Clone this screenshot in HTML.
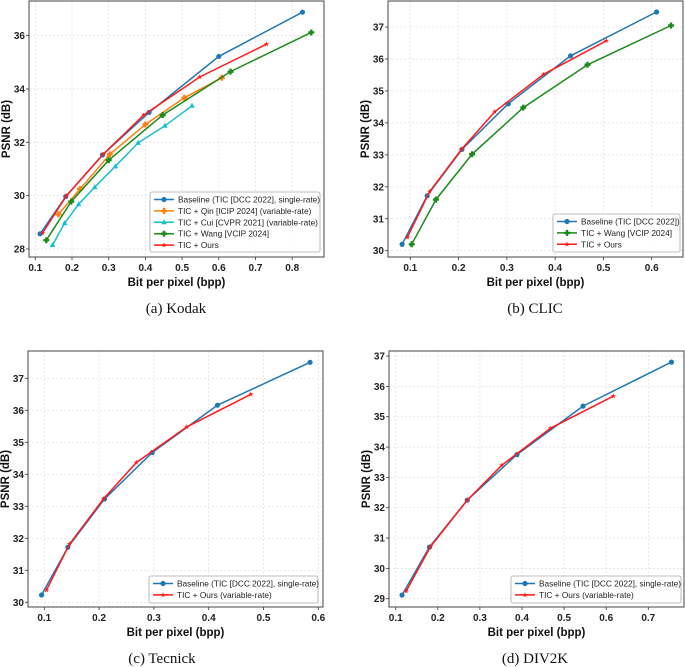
<!DOCTYPE html>
<html><head><meta charset="utf-8"><style>
html,body{margin:0;padding:0;background:#fff;}
svg{display:block;font-family:"Liberation Sans",sans-serif;}
.tick{font-size:10px;font-weight:bold;fill:#222;}
.axl{font-size:11.5px;font-weight:bold;fill:#111;}
.leg{font-size:8.3px;fill:#222;}
.cap{font-family:"Liberation Serif",serif;font-size:15px;fill:#111;}
</style></head><body>
<svg id="fig" width="685" height="667" viewBox="0 0 685 667"></svg>
<script>
// ---- Kodak ----
const kodakBaseX=[0.113,0.183,0.283,0.41,0.60,0.828];
const kodakBaseY=[28.57,29.97,31.53,33.12,35.22,36.88];
const kodakQinX=[0.163,0.222,0.303,0.40,0.506,0.608];
const kodakQinY=[29.3,30.25,31.55,32.67,33.67,34.42];
const kodakCuiX=[0.147,0.18,0.218,0.262,0.318,0.38,0.453,0.527];
const kodakCuiY=[28.15,28.97,29.68,30.32,31.1,31.98,32.62,33.37];
const kodakWangX=[0.13,0.198,0.30,0.447,0.632,0.852];
const kodakWangY=[28.33,29.78,31.33,33.02,34.65,36.12];
const kodakOursX=[0.12,0.185,0.285,0.395,0.548,0.73];
const kodakOursY=[28.6,30.0,31.55,33.02,34.45,35.68];
const kodakXTicks=[0.1,0.2,0.3,0.4,0.5,0.6,0.7,0.8];
const kodakYTicks=[28,30,32,34,36];
// ---- CLIC ----
const clicBaseX=[0.083,0.135,0.207,0.303,0.432,0.61];
const clicBaseY=[30.2,31.72,33.17,34.6,36.1,37.47];
const clicWangX=[0.103,0.153,0.228,0.334,0.467,0.64];
const clicWangY=[30.2,31.6,33.02,34.48,35.82,37.05];
const clicOursX=[0.094,0.14,0.206,0.275,0.376,0.506];
const clicOursY=[30.42,31.85,33.17,34.35,35.52,36.57];
const clicXTicks=[0.1,0.2,0.3,0.4,0.5,0.6];
const clicYTicks=[30,31,32,33,34,35,36,37];
// ---- Tecnick ----
const tecBaseX=[0.095,0.143,0.21,0.297,0.416,0.585];
const tecBaseY=[30.23,31.72,33.23,34.68,36.16,37.5];
const tecOursX=[0.104,0.146,0.208,0.268,0.36,0.477];
const tecOursY=[30.38,31.82,33.23,34.37,35.48,36.5];
const tecXTicks=[0.1,0.2,0.3,0.4,0.5,0.6];
const tecYTicks=[30,31,32,33,34,35,36,37];
// ---- DIV2K ----
const divBaseX=[0.115,0.18,0.27,0.388,0.545,0.755];
const divBaseY=[29.12,30.7,32.25,33.75,35.35,36.8];
const divOursX=[0.125,0.183,0.27,0.352,0.468,0.617];
const divOursY=[29.25,30.72,32.25,33.4,34.62,35.68];
const divXTicks=[0.1,0.2,0.3,0.4,0.5,0.6,0.7];
const divYTicks=[29,30,31,32,33,34,35,36,37];

const NS="http://www.w3.org/2000/svg";
const svg=document.getElementById('fig');
function mk(tag,attrs,parent){const e=document.createElementNS(NS,tag);for(const k in attrs)e.setAttribute(k,attrs[k]);(parent||svg).appendChild(e);return e;}

function marker(g,type,x,y,c){
  let e;
  if(type==='o'){e=mk('circle',{cx:x,cy:y,r:2.6,fill:c},g);}
  else if(type==='P'){e=mk('path',{d:`M${x-1.2},${y-3}h2.4v1.8h1.8v2.4h-1.8v1.8h-2.4v-1.8h-1.8v-2.4h1.8z`,fill:c},g);}
  else if(type==='^'){e=mk('path',{d:`M${x},${y-3}L${x+2.8},${y+2}L${x-2.8},${y+2}z`,fill:c},g);}
  else {let p='';for(let i=0;i<10;i++){const r=i%2?1.1:2.8;const a=-Math.PI/2+i*Math.PI/5;p+=(i?'L':'M')+(x+r*Math.cos(a)).toFixed(2)+','+(y+r*Math.sin(a)).toFixed(2);}e=mk('path',{d:p+'z',fill:c},g);}
  
  
}

function chart(o){
  const g=mk('g',{});
  
  
  const sx=v=>o.x0px+(v-o.x0)*o.xs, sy=v=>o.y0px-(v-o.y0)*o.ys;
  mk('rect',{x:o.L,y:o.T,width:o.R-o.L,height:o.B-o.T,fill:'#fff',stroke:'none'},g);
  o.xt.forEach(t=>{const x=sx(t);
    mk('line',{x1:x,x2:x,y1:o.T,y2:o.B,stroke:'#ddd','stroke-width':0.7,'stroke-dasharray':'2,2'},g);
    mk('line',{x1:x,x2:x,y1:o.B,y2:o.B+3,stroke:'#333','stroke-width':0.8},g);
    const tx=mk('text',{x:x,y:o.B+14,'text-anchor':'middle',class:'tick'},g);tx.textContent=String(t);
    
    });
  o.yt.forEach(t=>{const y=sy(t);
    mk('line',{x1:o.L,x2:o.R,y1:y,y2:y,stroke:'#ddd','stroke-width':0.7,'stroke-dasharray':'2,2'},g);
    mk('line',{x1:o.L-3,x2:o.L,y1:y,y2:y,stroke:'#333','stroke-width':0.8},g);
    const tx=mk('text',{x:o.L-4,y:y+3.5,'text-anchor':'end',class:'tick'},g);tx.textContent=String(t);
    
    });
  mk('rect',{x:o.L,y:o.T,width:o.R-o.L,height:o.B-o.T,fill:'none',stroke:'#444','stroke-width':1},g);
  o.series.forEach(s=>{
    const pts=s.x.map((v,i)=>sx(v).toFixed(1)+','+sy(s.y[i]).toFixed(1)).join(' ');
    const pl=mk('polyline',{points:pts,fill:'none',stroke:s.c,'stroke-width':1.5},g);
    
    
    s.x.forEach((v,i)=>marker(g,s.m,sx(v),sy(s.y[i]),s.c));
  });
  const xl=mk('text',{x:(o.L+o.R)/2,y:o.B+29,'text-anchor':'middle',class:'axl'},g);xl.textContent='Bit per pixel (bpp)';
  
  
  const yx=o.L-19, yy=(o.T+o.B)/2;
  const yl=mk('text',{x:yx,y:yy,'text-anchor':'middle',class:'axl',transform:`rotate(-90 ${yx} ${yy})`},g);yl.textContent='PSNR (dB)';
  
  
  const lg=o.leg;
  const lr=mk('rect',{x:lg.x,y:lg.y,width:lg.w,height:lg.h,fill:'#fff','fill-opacity':0.85,stroke:'#aaa','stroke-width':0.8,rx:2},g);
  
  
  o.series.forEach((s,i)=>{const y=lg.y+7.5+i*lg.dy;
    mk('line',{x1:lg.x+4,x2:lg.x+24,y1:y,y2:y,stroke:s.c,'stroke-width':1.5},g);
    marker(g,s.m,lg.x+14,y,s.c);
    const t=mk('text',{x:lg.x+28,y:y+3,class:'leg'},g);t.textContent=s.label;
    
    });
  const c=mk('text',{x:o.capX,y:o.capY,'text-anchor':'middle',class:'cap'},g);c.textContent=o.cap;
  
  
}
const BL='#1f77b4',OR='#ff7f0e',CY='#17becf',GR='#1a8a1a',RD='#ff1a1a';
chart({name:'kodak-chart',L:29,R:324,T:1,B:257,x0:0.1,x0px:35.3,xs:367,y0:28,y0px:249,ys:26.67,
 xt:kodakXTicks,yt:kodakYTicks,cap:'(a) Kodak',capX:176,capY:313,
 leg:{x:150,y:192,w:170,h:60,dy:11.4},
 series:[{x:kodakBaseX,y:kodakBaseY,c:BL,m:'o',label:'Baseline (TIC [DCC 2022], single-rate)'},
 {x:kodakQinX,y:kodakQinY,c:OR,m:'P',label:'TIC + Qin [ICIP 2024] (variable-rate)'},
 {x:kodakCuiX,y:kodakCuiY,c:CY,m:'^',label:'TIC + Cui [CVPR 2021] (variable-rate)'},
 {x:kodakWangX,y:kodakWangY,c:GR,m:'P',label:'TIC + Wang [VCIP 2024]'},
 {x:kodakOursX,y:kodakOursY,c:RD,m:'*',label:'TIC + Ours'}]});
chart({name:'clic-chart',L:388,R:683,T:1,B:257,x0:0.1,x0px:410.3,xs:482.8,y0:30,y0px:250.7,ys:31.95,
 xt:clicXTicks,yt:clicYTicks,cap:'(b) CLIC',capX:535,capY:313,
 leg:{x:553,y:214,w:127,h:38,dy:11.4},
 series:[{x:clicBaseX,y:clicBaseY,c:BL,m:'o',label:'Baseline (TIC [DCC 2022])'},
 {x:clicWangX,y:clicWangY,c:GR,m:'P',label:'TIC + Wang [VCIP 2024]'},
 {x:clicOursX,y:clicOursY,c:RD,m:'*',label:'TIC + Ours'}]});
chart({name:'tecnick-chart',L:28,R:323,T:351,B:607,x0:0.1,x0px:44.3,xs:548,y0:30,y0px:602.3,ys:32,
 xt:tecXTicks,yt:tecYTicks,cap:'(c) Tecnick',capX:162,capY:663,
 leg:{x:149,y:576,w:169,h:27,dy:11.4},
 series:[{x:tecBaseX,y:tecBaseY,c:BL,m:'o',label:'Baseline (TIC [DCC 2022], single-rate)'},
 {x:tecOursX,y:tecOursY,c:RD,m:'*',label:'TIC + Ours (variable-rate)'}]});
chart({name:'div2k-chart',L:389,R:684,T:351,B:607,x0:0.1,x0px:395.7,xs:421,y0:29,y0px:598.7,ys:30.33,
 xt:divXTicks,yt:divYTicks,cap:'(d) DIV2K',capX:535,capY:663,
 leg:{x:511,y:576,w:170,h:27,dy:11.4},
 series:[{x:divBaseX,y:divBaseY,c:BL,m:'o',label:'Baseline (TIC [DCC 2022], single-rate)'},
 {x:divOursX,y:divOursY,c:RD,m:'*',label:'TIC + Ours (variable-rate)'}]});
</script>
</body></html>
